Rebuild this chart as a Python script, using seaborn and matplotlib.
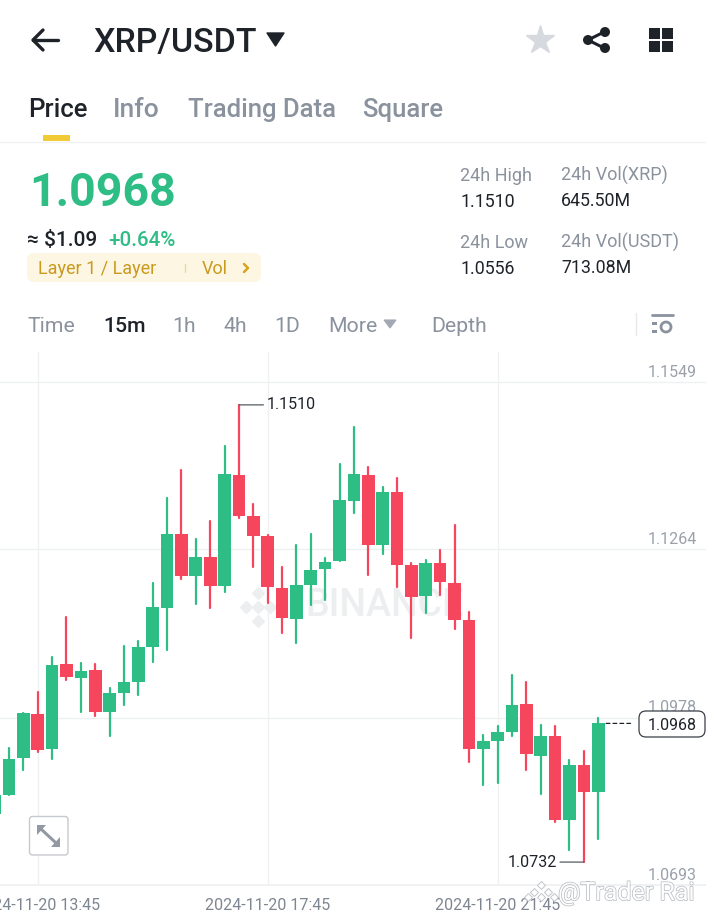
import matplotlib
matplotlib.use("Agg")
import matplotlib.pyplot as plt
import matplotlib.patheffects as pe
from matplotlib.patches import Circle, FancyBboxPatch, Polygon, Rectangle
import seaborn as sns
import pandas as pd

# candles, 15m, index 2 is 13:45
idx = list(range(-1, 42))
opens = [1.0814, 1.0846, 1.0909, 1.0984, 1.0924, 1.1069, 1.1045, 1.1059, 1.0987, 1.1020, 1.1039,
         1.1098, 1.1164, 1.1290, 1.1219, 1.1251, 1.1202, 1.1391, 1.1321, 1.1287, 1.1198, 1.1146,
         1.1204, 1.1231, 1.1244, 1.1347, 1.1391, 1.1272, 1.1362, 1.1238, 1.1185, 1.1241, 1.1207,
         1.1144, 1.0924, 1.0938, 1.0953, 1.1001, 1.0913, 1.0947, 1.0804, 1.0897, 1.0851]
highs = [1.0846, 1.0926, 1.0986, 1.1021, 1.1081, 1.1149, 1.1071, 1.1069, 1.1028, 1.1100, 1.1108,
         1.1207, 1.1352, 1.1399, 1.1282, 1.1313, 1.1440, 1.1510, 1.1341, 1.1289, 1.1234, 1.1272,
         1.1290, 1.1250, 1.1410, 1.1472, 1.1404, 1.1370, 1.1386, 1.1241, 1.1246, 1.1263, 1.1306,
         1.1158, 1.0948, 1.0964, 1.1050, 1.1039, 1.0965, 1.0964, 1.0906, 1.0921, 1.0977]
lows = [1.0814, 1.0846, 1.0889, 1.0919, 1.0907, 1.1042, 1.0987, 1.0981, 1.0947, 1.0999, 1.1016,
        1.1073, 1.1093, 1.1214, 1.1171, 1.1164, 1.1192, 1.1318, 1.1234, 1.1173, 1.1122, 1.1105,
        1.1170, 1.1178, 1.1244, 1.1326, 1.1221, 1.1256, 1.1200, 1.1113, 1.1156, 1.1187, 1.1129,
        1.0902, 1.0863, 1.0867, 1.0947, 1.0889, 1.0848, 1.0800, 1.0753, 1.0732, 1.0771]
closes = [1.0846, 1.0907, 1.0986, 1.0923, 1.1067, 1.1047, 1.1057, 1.0987, 1.1020, 1.1039, 1.1098,
          1.1166, 1.1290, 1.1219, 1.1251, 1.1202, 1.1392, 1.1321, 1.1287, 1.1200, 1.1147, 1.1204,
          1.1229, 1.1243, 1.1348, 1.1392, 1.1272, 1.1362, 1.1238, 1.1183, 1.1241, 1.1209, 1.1144,
          1.0924, 1.0938, 1.0953, 1.0999, 1.0916, 1.0947, 1.0804, 1.0897, 1.0851, 1.0968]

price_ticks = [1.1549, 1.1264, 1.0978, 1.0693]
time_ticks = [2, 18, 34]
time_labels = ["2024-11-20 13:45", "2024-11-20 17:45", "2024-11-20 21:45"]

GREEN = "#2ebd85"
RED = "#f6465d"
DARK = "#1e2329"
GREY = "#8a929e"
LIGHT = "#eef0f2"

sns.set_theme(style="white")
plt.rcParams["font.family"] = ["Roboto", "DejaVu Sans"]

df = pd.DataFrame({"idx": idx, "open": opens, "high": highs, "low": lows, "close": closes})
df["side"] = ["up" if c >= o else "down" for o, c in zip(df["open"], df["close"])]
df["bottom"] = df[["open", "close"]].min(axis=1)
df["height"] = (df["close"] - df["open"]).abs()

fig = plt.figure(figsize=(7.06, 9.14), dpi=100, facecolor="white")
W, H = 706, 914

# chart area, 0..706 px wide, 352..885 px down
ax = fig.add_axes([0, 1 - 885 / H, 1, (885 - 352) / H], zorder=1)
ax.set_facecolor("white")

wicks = df.melt(id_vars=["idx", "side"], value_vars=["low", "high"], value_name="price")
sns.lineplot(data=wicks, x="idx", y="price", units="idx", estimator=None, hue="side",
             palette={"up": GREEN, "down": RED}, linewidth=1.6, legend=False, sort=False,
             ax=ax, zorder=2)

for side, col in [("up", GREEN), ("down", RED)]:
    part = df[df["side"] == side]
    sns.barplot(x=part["idx"], y=part["height"], bottom=part["bottom"].values, native_scale=True,
                color=col, saturation=1, width=0.88, gap=0, errorbar=None, legend=False,
                linewidth=0, ax=ax, zorder=3)

ax.set_xlim(-0.626, 48.5)
ax.set_ylim(1.0693, 1.1600)
ax.set_xlabel("")
ax.set_ylabel("")
ax.set_xticks(time_ticks)
ax.set_xticklabels(time_labels, fontsize=11.5, color="#7e8691")
ax.set_yticks(price_ticks)
ax.set_yticklabels([])
ax.tick_params(axis="x", length=7.5, color=LIGHT, width=1, pad=1.5)
ax.tick_params(axis="y", length=0)
ax.grid(True, color=LIGHT, linewidth=1)
ax.set_axisbelow(True)
sns.despine(ax=ax, left=True, right=True)
ax.spines["top"].set_color(LIGHT)
ax.spines["bottom"].set_color(LIGHT)

for p in price_ticks:
    ax.annotate(f"{p:.4f}", xy=(1, p), xycoords=("axes fraction", "data"), xytext=(-6.5, 1.6),
                textcoords="offset points", ha="right", va="bottom", fontsize=11.5, color="#9aa1ab")

# high / low markers
hi = df.loc[df["high"].idxmax()]
lo = df.loc[df["low"].idxmin()]
ax.annotate(f"{hi['high']:.4f}", xy=(hi["idx"], hi["high"]), xytext=(20, 0), textcoords="offset points",
            ha="left", va="center", fontsize=11.5, color=DARK,
            arrowprops=dict(arrowstyle="-", color="#555b63", lw=0.9, shrinkA=0, shrinkB=0))
ax.annotate(f"{lo['low']:.4f}", xy=(lo["idx"], lo["low"]), xytext=(-19.5, 0), textcoords="offset points",
            ha="right", va="center", fontsize=11.5, color=DARK,
            arrowprops=dict(arrowstyle="-", color="#555b63", lw=0.9, shrinkA=0, shrinkB=0))

# last price tag
last = df.iloc[-1]
ax.annotate("", xy=(last["idx"] + 0.55, last["close"]), xytext=(last["idx"] + 2.25, last["close"]),
            arrowprops=dict(arrowstyle="-", color=DARK, lw=0.9, ls=(0, (3, 2.5)), shrinkA=0, shrinkB=0))

# everything around the chart, in pixel coordinates
ui = fig.add_axes([0, 0, 1, 1], zorder=2)
ui.set_xlim(0, W)
ui.set_ylim(H, 0)
ui.axis("off")
ui.patch.set_alpha(0)

ui.add_patch(FancyBboxPatch((639, 711), 66, 26, boxstyle="round,pad=0,rounding_size=7",
                            fc="white", ec="#3a3f47", lw=0.9, zorder=4))
ui.text(672, 725, f"{last['close']:.4f}", ha="center", va="center", fontsize=11.5, color=DARK, zorder=5)

# header
ui.plot([33, 58], [40, 40], color=DARK, lw=2.4, solid_capstyle="round")
ui.plot([43, 33, 43], [30, 40, 50], color=DARK, lw=2.4, solid_capstyle="round", solid_joinstyle="round")
ui.text(93, 43, "XRP/USDT", fontsize=24.5, color=DARK, weight="medium", va="center")
ui.add_patch(Polygon([[267, 33], [284, 33], [275.5, 46]], fc=DARK, ec=DARK, lw=1, joinstyle="round"))
ui.plot([540], [40], marker="*", markersize=21, color="#d6d9de", mec="#d6d9de")
for a, b in [((588, 40), (606, 31)), ((588, 40), (606, 49))]:
    ui.plot([a[0], b[0]], [a[1], b[1]], color=DARK, lw=2.2)
for c in [(588, 40), (605, 32), (605, 48)]:
    ui.add_patch(Circle(c, 5, fc=DARK, ec="none"))
for x0 in (649, 662):
    for y0 in (28, 41):
        ui.add_patch(Rectangle((x0, y0), 11, 11, fc=DARK, ec="none"))

# tabs
ui.text(28, 110, "Price", fontsize=18.5, color=DARK, weight="medium", va="center")
ui.text(113, 110, "Info", fontsize=19, color=GREY, weight="medium", va="center")
ui.text(188, 110, "Trading Data", fontsize=18.5, color=GREY, weight="medium", va="center")
ui.text(362, 110, "Square", fontsize=18.5, color=GREY, weight="medium", va="center")
ui.plot([0, W], [141.5, 141.5], color="#f0f1f3", lw=1)
ui.add_patch(Rectangle((43, 135), 27, 6, fc="#f0cb35", ec="none"))

# price block
ui.text(29, 193, "1.0968", fontsize=33.5, color=GREEN, weight="bold", va="center")
ui.text(27, 240, "≈ $1.09", fontsize=15, color=DARK, weight="medium", va="center")
ui.text(108, 240, "+0.64%", fontsize=14.8, color=GREEN, weight="medium", va="center")
ui.add_patch(FancyBboxPatch((27, 253), 234, 29, boxstyle="round,pad=0,rounding_size=7", fc="#fdf6e3", ec="none"))
ui.text(38, 269, "Layer 1 / Layer", fontsize=13, color="#c99a1e", va="center")
ui.plot([185, 185], [264, 272], color="#ecd9a0", lw=1)
ui.text(202, 269, "Vol", fontsize=13, color="#c99a1e", va="center")
ui.plot([244, 248, 244], [264, 268, 272], color="#d9a520", lw=1.8)

# 24h stats
ui.text(460, 176, "24h High", fontsize=13, color=GREY, va="center")
ui.text(460, 202, "1.1510", fontsize=12.8, color=DARK, va="center")
ui.text(460, 243, "24h Low", fontsize=13, color=GREY, va="center")
ui.text(460, 269, "1.0556", fontsize=12.8, color=DARK, va="center")
ui.text(561, 175, "24h Vol(XRP)", fontsize=13, color=GREY, va="center")
ui.text(561, 201, "645.50M", fontsize=12.8, color=DARK, va="center")
ui.text(561, 242, "24h Vol(USDT)", fontsize=13, color=GREY, va="center")
ui.text(561, 268, "713.08M", fontsize=12.8, color=DARK, va="center")

# interval row
for x0, label in [(27, "Time"), (172, "1h"), (223, "4h"), (274, "1D"), (328, "More"), (431, "Depth")]:
    ui.text(x0, 327, label, fontsize=15.3, color=GREY, va="center")
ui.text(103, 327, "15m", fontsize=15.3, color=DARK, weight="medium", va="center")
ui.add_patch(Polygon([[384, 320], [396, 320], [390, 328]], fc="#a3a9b3", ec="#a3a9b3", lw=0.8))
ui.plot([636, 636], [313, 335], color="#e6e8eb", lw=1)
ui.plot([652, 673], [315, 315], color=GREY, lw=2)
ui.add_patch(Rectangle((652, 322), 5, 3, fc=GREY, ec="none"))
ui.add_patch(Rectangle((652, 330), 5, 3, fc=GREY, ec="none"))
ui.add_patch(Circle((666, 327), 5, fc="white", ec=GREY, lw=2))

# expand button
ui.add_patch(FancyBboxPatch((29.5, 816.5), 38.5, 38.5, boxstyle="round,pad=0,rounding_size=3", fc="white", ec="#c6c9ce", lw=1))
ui.plot([41, 56], [829, 843], color="#9299a3", lw=2.2)
ui.add_patch(Polygon([[37, 825], [46, 825], [37, 835]], fc="#9299a3", ec="none"))
ui.add_patch(Polygon([[60, 847], [51, 847], [60, 837]], fc="#9299a3", ec="none"))

# watermarks
wm = ui.transData
ax.text(305, 605, "BINANCE", transform=wm, fontsize=27, color="#eceeef", weight="medium",
        va="center", zorder=1)
for cx, cy in [(258, 593), (246, 607), (270, 607), (258, 621), (258, 607)]:
    ax.plot([cx], [cy], transform=wm, marker="D", markersize=6.5, color="#eceeef", zorder=1)
ui.text(558, 893, "@Trader Rai", fontsize=18, color="white", va="center", zorder=6,
        path_effects=[pe.withStroke(linewidth=1.1, foreground="#b9bdc3")])
for cx, cy in [(541, 885), (534, 892), (548, 892), (528, 897), (541, 897), (554, 897)]:
    ui.plot([cx], [cy], marker="D", markersize=4.5, mfc="white", mec="#c0c4c9", mew=0.7, zorder=6)

fig.savefig("out.png", dpi=100)
